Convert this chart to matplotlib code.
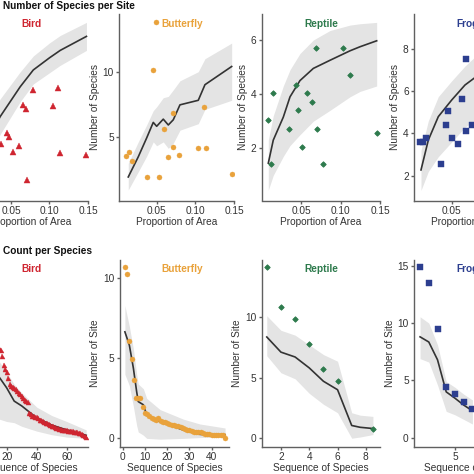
import matplotlib
matplotlib.use('Agg')
import matplotlib.pyplot as plt

plt.rcParams['font.family'] = ['Liberation Sans', 'DejaVu Sans']
plt.rcParams['font.size'] = 7.3

W = H = 474

# ---- top row: number of species per site vs proportion of area ----
bird_area = [0.0366, 0.045, 0.048, 0.060, 0.053, 0.065, 0.070, 0.071, 0.079, 0.104, 0.111, 0.114, 0.147]
bird_rich = [7.1, 8.2, 7.8, 6.8, 6.2, 11.2, 10.8, 3.2, 12.8, 11.1, 13.1, 6.1, 5.9]
bird_fit_x = [0.005, 0.01, 0.02, 0.036, 0.062, 0.079, 0.10, 0.114, 0.148]
bird_fit_y = [3.0, 5.0, 7.5, 10.0, 13.2, 15.0, 16.3, 17.1, 18.6]
bird_fit_hi = [4.5, 6.8, 9.4, 11.9, 14.8, 16.5, 17.9, 18.7, 20.1]
bird_fit_lo = [1.5, 3.2, 5.6, 8.1, 11.6, 13.5, 14.7, 15.5, 17.1]

bfly_area = [0.0104, 0.0147, 0.0186, 0.0379, 0.0448, 0.0487, 0.053, 0.0598, 0.065, 0.0706,
             0.0714, 0.0787, 0.1036, 0.111, 0.1131, 0.1466]
bfly_rich = [3.5, 3.85, 3.1, 1.9, 10.1, 13.85, 1.9, 5.6, 3.4, 6.8, 4.2, 3.6, 4.1, 7.3, 4.1, 2.15]
bfly_fit_x = [0.0134, 0.0263, 0.0371, 0.0456, 0.050, 0.0585, 0.065, 0.0714, 0.080, 0.1036, 0.1122, 0.1466]
bfly_fit_y = [1.9, 3.45, 4.9, 6.1, 5.8, 6.35, 5.9, 6.3, 7.45, 7.8, 9.0, 10.4]
bfly_fit_hi = [2.95, 4.6, 5.9, 7.0, 7.3, 8.0, 8.1, 8.6, 9.3, 10.0, 11.0, 12.2]
bfly_fit_lo = [0.9, 2.3, 3.5, 4.6, 4.3, 4.6, 4.1, 4.5, 5.5, 6.0, 7.1, 7.8]

rept_area = [0.0086, 0.0116, 0.0149, 0.0352, 0.0437, 0.0458, 0.0513, 0.058, 0.0635, 0.069,
             0.0699, 0.0775, 0.1028, 0.112, 0.1458]
rept_rich = [3.05, 1.4, 4.05, 2.7, 4.35, 3.4, 2.05, 4.05, 3.7, 5.7, 2.7, 1.4, 5.7, 4.7, 2.55]
rept_fit_x = [0.0086, 0.0149, 0.0276, 0.0361, 0.0487, 0.0656, 0.0867, 0.112, 0.1247, 0.1458]
rept_fit_y = [1.45, 2.3, 3.15, 3.9, 4.5, 4.95, 5.25, 5.6, 5.75, 5.97]
rept_fit_hi = [2.3, 3.2, 4.3, 4.9, 5.5, 6.0, 6.35, 6.55, 6.6, 6.65]
rept_fit_lo = [0.45, 1.0, 1.7, 2.1, 2.5, 3.0, 3.4, 3.9, 4.1, 4.3]

frog_area = [0.0094, 0.0136, 0.0167, 0.0363, 0.0431, 0.0456, 0.0508, 0.0577, 0.0628, 0.0679, 0.0683, 0.0756]
frog_rich = [3.6, 3.6, 3.8, 2.55, 4.4, 5.05, 3.8, 3.5, 5.65, 4.1, 7.55, 4.4]
frog_fit_x = [0.0106, 0.02, 0.0328, 0.05, 0.067, 0.0786, 0.10, 0.15]
frog_fit_y = [2.27, 3.69, 4.8, 5.59, 6.3, 6.62, 7.2, 8.2]
frog_fit_hi = [3.2, 4.6, 5.75, 6.5, 7.2, 7.6, 8.1, 9.0]
frog_fit_lo = [1.3, 2.2, 2.9, 3.6, 4.3, 4.6, 5.1, 6.0]

# ---- bottom row: count per species (rank order) ----
bird_sites = [14.0, 13.0, 12.0, 11.5, 11.0, 10.5, 10.0, 9.6, 9.2, 8.8, 8.5, 8.2, 7.9, 7.6, 7.5,
              7.35, 6.9, 6.1, 5.8, 5.5, 5.0, 4.5, 4.4, 4.3, 4.2, 4.1, 3.95, 3.8, 3.7, 3.5,
              3.35, 3.2, 3.1, 3.0, 2.1, 2.0, 1.9, 1.85, 1.8, 1.75, 1.7, 1.55, 1.5, 1.45, 1.35,
              1.3, 1.25, 1.2, 1.15, 1.05, 1.0, 0.95, 0.9, 0.85, 0.8, 0.75, 0.72, 0.7, 0.7, 0.68,
              0.65, 0.62, 0.6, 0.57, 0.55, 0.52, 0.5, 0.45, 0.42, 0.38, 0.3, 0.22, 0.13]
bird_seq_x = [1, 5, 10, 15, 20, 25, 30, 35, 40, 50, 60, 73]
bird_seq_y = [9.5, 8.2, 6.6, 5.1, 4.2, 3.1, 2.7, 2.2, 1.7, 1.1, 0.7, 0.25]
bird_seq_hi = [11.5, 10.0, 8.3, 6.4, 5.5, 4.5, 3.8, 3.2, 2.6, 1.9, 1.4, 0.7]
bird_seq_lo = [7.5, 6.0, 3.8, 1.6, 1.4, 1.3, 1.0, 0.8, 0.6, 0.3, 0.1, 0.0]

bfly_sites = [10.7, 10.25, 6.1, 4.95, 3.65, 2.5, 2.5, 2.5, 1.95, 1.6, 1.5, 1.4, 1.3, 1.2, 1.15,
              1.25, 1.1, 1.05, 1.0, 0.95, 0.9, 0.85, 0.85, 0.8, 0.8, 0.7, 0.65, 0.6, 0.55, 0.5,
              0.45, 0.4, 0.4, 0.4, 0.38, 0.35, 0.3, 0.25, 0.25, 0.23, 0.23, 0.22, 0.2, 0.2, 0.2, 0.05]
bfly_seq_x = [1, 3, 4.8, 6.3, 7, 9.3, 10.8, 16.8, 27.3, 34.7, 46]
bfly_seq_y = [6.66, 5.83, 4.4, 2.9, 2.3, 2.1, 1.46, 1.04, 0.52, 0.25, 0.23]
bfly_seq_hi = [8.3, 7.0, 5.6, 4.0, 3.4, 3.1, 2.5, 1.8, 1.2, 0.9, 0.65]
bfly_seq_lo = [4.0, 3.3, 2.0, 0.8, 0.4, 0.2, 0.0, -0.05, 0.0, 0.05, 0.1]

rept_rank = [1, 2, 3, 4, 5, 6, 8.5]
rept_sites = [14.15, 10.8, 9.8, 7.8, 5.75, 4.75, 0.78]
rept_seq_x = [1, 2, 3, 4, 5, 6, 7, 7.6, 8.5]
rept_seq_y = [8.35, 7.1, 6.7, 5.8, 4.7, 4.0, 1.05, 0.9, 0.8]
rept_seq_hi = [10.1, 8.9, 8.5, 7.7, 6.9, 6.35, 2.1, 1.9, 1.8]
rept_seq_lo = [6.8, 5.4, 4.9, 3.7, 2.8, 2.1, 0.0, 0.1, 0.3]

frog_rank = [1, 2, 3, 4, 5, 6, 7]
frog_sites = [14.85, 13.5, 9.5, 4.45, 3.8, 3.1, 2.5]
frog_seq_x = [1, 2, 3, 4, 5, 6, 7]
frog_seq_y = [8.8, 8.35, 6.8, 4.0, 3.45, 2.85, 2.35]
frog_seq_hi = [10.55, 10.0, 8.1, 4.9, 4.4, 3.8, 3.3]
frog_seq_lo = [6.9, 6.6, 4.6, 2.3, 2.0, 1.6, 1.2]

RED, ORANGE, GREEN, BLUE = '#cf2530', '#e9a23b', '#2d7a4c', '#2c3e8f'
SPINE = '#606060'
BAND = '#e4e4e4'


def rect(l, t, r, b):
    return [l / W, 1 - b / H, (r - l) / W, (b - t) / H]


def style(ax):
    for s in ('top', 'right'):
        ax.spines[s].set_visible(False)
    for s in ('left', 'bottom'):
        ax.spines[s].set_color(SPINE)
        ax.spines[s].set_linewidth(1.0)
    ax.tick_params(length=2.5, width=1.0, color=SPINE, labelsize=7.3,
                   labelcolor='#333333', pad=1.5)


def panel(box, fx, fy, lo, hi, px, py, color, marker, ms, xlim, ylim, mew=0.3):
    ax = fig.add_axes(rect(*box))
    ax.fill_between(fx, lo, hi, color=BAND, lw=0, zorder=1)
    ax.plot(fx, fy, color='#333333', lw=1.2, zorder=2)
    ax.plot(px, py, ls='none', marker=marker, ms=ms, color=color, mec=color, mew=mew, zorder=3)
    ax.set_xlim(*xlim)
    ax.set_ylim(*ylim)
    style(ax)
    return ax


fig = plt.figure(figsize=(W / 100, H / 100), dpi=100)

TOP = (14, 200.5)
BOT = (260, 446.7)
star = (4, 1, 45)

# top row
a = panel((-26, TOP[0], 88, TOP[1]), bird_fit_x, bird_fit_y, bird_fit_lo, bird_fit_hi,
          bird_area, bird_rich, RED, '^', 4.8, (0.002, 0.15), (1, 21))
a.set_yticks([5, 10, 15, 20])
a = panel((119.4, TOP[0], 234.3, TOP[1]), bfly_fit_x, bfly_fit_y, bfly_fit_lo, bfly_fit_hi,
          bfly_area, bfly_rich, ORANGE, 'o', 3.6, (0.002, 0.15), (0.09, 14.44))
a.set_yticks([5, 10])
a = panel((261.5, TOP[0], 380, TOP[1]), rept_fit_x, rept_fit_y, rept_fit_lo, rept_fit_hi,
          rept_area, rept_rich, GREEN, 'D', 2.8, (0.0, 0.15), (0.07, 6.96), mew=0.6)
a.set_yticks([2, 4, 6])
a = panel((414.3, TOP[0], 529.7, TOP[1]), frog_fit_x, frog_fit_y, frog_fit_lo, frog_fit_hi,
          frog_area, frog_rich, BLUE, 's', 3.8, (0.002, 0.15), (0.82, 9.67))
a.set_yticks([2, 4, 6, 8])
top_axes = fig.axes[:4]
for ax in top_axes:
    ax.set_xticks([0.05, 0.10, 0.15])
    ax.set_xticklabels(['0.05', '0.10', '0.15'])
    ax.set_xlabel('Proportion of Area', labelpad=0.5, color='#333333')
    ax.set_ylabel('Number of Species', labelpad=2, color='#333333')

# bottom row
a = panel((-29, BOT[0], 88.3, BOT[1]), bird_seq_x, bird_seq_y, bird_seq_lo, bird_seq_hi,
          range(1, len(bird_sites) + 1), bird_sites, RED, '^', 3.6, (-3.8, 74.4), (-0.7, 14.86))
a.set_xticks([0, 20, 40, 60])
a.set_yticks([0, 5, 10])
a = panel((120, BOT[0], 229.3, BOT[1]), bfly_seq_x, bfly_seq_y, bfly_seq_lo, bfly_seq_hi,
          range(1, len(bfly_sites) + 1), bfly_sites, ORANGE, 'o', 3.6, (-1.2, 47.9), (-0.52, 11.15))
a.set_xticks([0, 10, 20, 30, 40])
a.set_yticks([0, 5, 10])
a = panel((261.7, BOT[0], 380, BOT[1]), rept_seq_x, rept_seq_y, rept_seq_lo, rept_seq_hi,
          rept_rank, rept_sites, GREEN, 'D', 2.8, (0.64, 9.0), (-0.7, 14.7), mew=0.6)
a.set_xticks([2, 4, 6, 8])
a.set_yticks([0, 5, 10])
a = panel((414.3, BOT[0], 530, BOT[1]), frog_seq_x, frog_seq_y, frog_seq_lo, frog_seq_hi,
          frog_rank, frog_sites, BLUE, 's', 3.8, (0.34, 13.6), (-0.78, 15.5))
a.set_xticks([5, 10])
a.set_yticks([0, 5, 10, 15])
for ax in fig.axes[4:]:
    ax.set_xlabel('Sequence of Species', labelpad=0.5, color='#333333')
    ax.set_ylabel('Number of Site', labelpad=2, color='#333333')


def ftext(x, y, s, **kw):
    fig.text(x / W, 1 - y / H, s, va='center', fontweight='bold', fontsize=7.3, **kw)


ftext(2.7, 6, 'Number of Species per Site', ha='left', color='#111111')
ftext(2.7, 250.7, 'Count per Species', ha='left', color='#111111')
for y in (24, 269):
    ftext(31.7, y, 'Bird', ha='center', color=RED)
    ftext(181.7, y, 'Butterfly', ha='center', color=ORANGE)
    ftext(321.7, y, 'Reptile', ha='center', color=GREEN)
    ftext(456.7, y, 'Frog', ha='left', color=BLUE)

fig.savefig('out.png', dpi=100)
